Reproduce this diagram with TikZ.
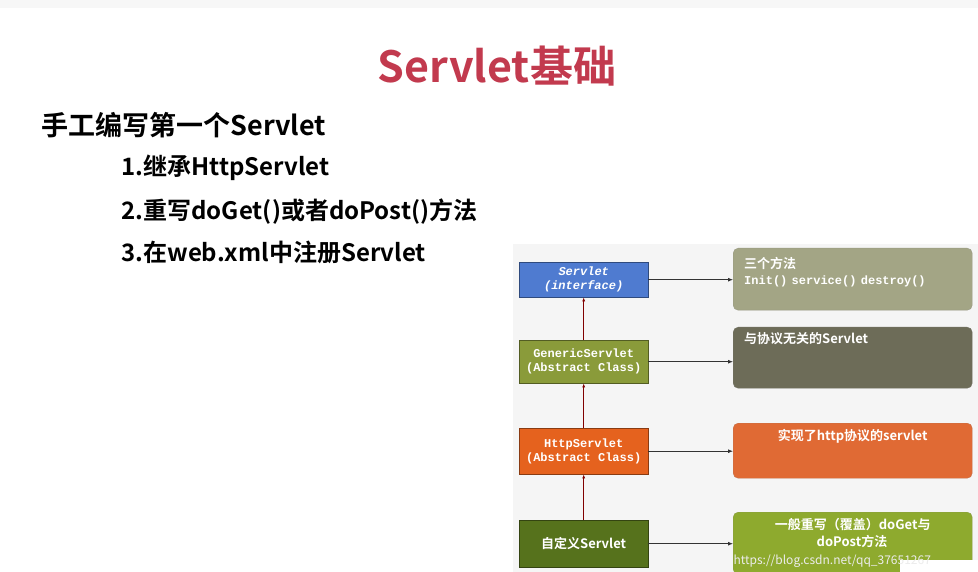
\documentclass[tikz,border=0pt]{standalone}
\usepackage{fontspec}
\setmainfont{Noto Sans CJK SC}[BoldFont={Noto Sans CJK SC Bold}]
\newfontfamily\mono{Liberation Mono}
\newfontfamily\cjk{Noto Sans CJK SC}[BoldFont={Noto Sans CJK SC Bold}]
\usetikzlibrary{arrows.meta}
\definecolor{titlered}{HTML}{C23A4E}
\begin{document}
\begin{tikzpicture}[x=1pt,y=-1pt,
  lbox/.style={draw=#1!60!black, fill=#1, minimum width=129pt, minimum height=38pt, inner sep=0pt, align=center, font=\mono\bfseries\fontsize{12}{14}\selectfont, text=white, anchor=north west},
  rbox/.style={draw=#1!70!gray, fill=#1, rounded corners=5pt, minimum width=239pt, inner sep=0pt, anchor=north west, text=white, font=\cjk\bfseries\fontsize{13}{16}\selectfont},
  conn/.style={-{Latex[length=5pt,width=4pt]}, thick, black!80},
  up/.style={-{Latex[length=4pt,width=3pt]}, semithick, red!50!black}]
\useasboundingbox (0,0) rectangle (978,572);
\fill[white] (0,0) rectangle (978,572);
\fill[black!3] (0,0) rectangle (978,8);
\node[font=\bfseries\fontsize{43}{48}\selectfont, text=titlered] (title) at (497,66) {Servlet基础};
\node[font=\bfseries\fontsize{27}{32}\selectfont, anchor=west] (h) at (38,125) {手工编写第一个Servlet};
\node[font=\bfseries\fontsize{24}{30}\selectfont, anchor=west] (i1) at (118,168) {1.继承HttpServlet};
\node[font=\bfseries\fontsize{24}{30}\selectfont, anchor=west] (i2) at (118,212) {2.重写doGet()或者doPost()方法};
\node[font=\bfseries\fontsize{24}{30}\selectfont, anchor=west] (i3) at (118,252) {3.在web.xml中注册Servlet};
\fill[black!4] (513,244) rectangle (978,572);
\definecolor{cblue}{HTML}{4F7BD0}
\definecolor{cgreen}{HTML}{8A9B3A}
\definecolor{corange}{HTML}{E5621E}
\definecolor{cdgreen}{HTML}{56721C}
\definecolor{cgray1}{HTML}{A3A585}
\definecolor{cgray2}{HTML}{6D6C58}
\definecolor{corange2}{HTML}{E06A34}
\definecolor{cgreen2}{HTML}{8EAA2E}
\node[lbox=cblue, minimum height=35pt, font=\mono\bfseries\itshape\fontsize{12}{14}\selectfont] (s) at (519,262) {Servlet\\(interface)};
\node[lbox=cgreen, minimum height=43pt] (g) at (519,340) {GenericServlet\\(Abstract Class)};
\node[lbox=corange, minimum height=46pt] (h2) at (519,428) {HttpServlet\\(Abstract Class)};
\node[lbox=cdgreen, minimum height=47pt, font=\cjk\bfseries\fontsize{13}{15}\selectfont] (c) at (519,520) {自定义Servlet};
\node[rbox=cgray1, minimum height=62pt, align=left, text depth=32pt, text width=225pt] (r1) at (733,248) {\hspace*{4pt}三个方法\\[0pt]\hspace*{4pt}{\mono\fontsize{12}{14}\selectfont Init() service() destroy()}};
\node[rbox=cgray2, minimum height=61pt, text width=225pt, text depth=40pt, align=left] (r2) at (733,327) {\hspace*{4pt}与协议无关的Servlet};
\node[rbox=corange2, minimum height=55pt, text width=225pt, text depth=32pt, align=center] (r3) at (733,423) {实现了http协议的servlet};
\node[rbox=cgreen2, minimum height=62pt, text width=225pt, text depth=38pt, align=center] (r4) at (733,512) {一般重写（覆盖）doGet与};
\node[font=\cjk\bfseries\fontsize{13}{16}\selectfont, text=white] (r4b) at (852,541) {doPost方法};
\draw[conn] (s.east) -- (r1.west |- s.east);
\draw[conn] (g.east) -- (r2.west |- g.east);
\draw[conn] (h2.east) -- (r3.west |- h2.east);
\draw[conn] (c.east) -- (r4.west |- c.east);
\draw[up] (g.north) -- (s.south);
\draw[up] (h2.north) -- (g.south);
\draw[up] (c.north) -- (h2.south);
\fill[white] (900,560) rectangle (978,572);
\node[font=\fontsize{12}{14}\selectfont, text=white!85!gray, anchor=west] (wm) at (730,561) {https://blog.csdn.net/qq\_37651267};
\end{tikzpicture}
\end{document}
